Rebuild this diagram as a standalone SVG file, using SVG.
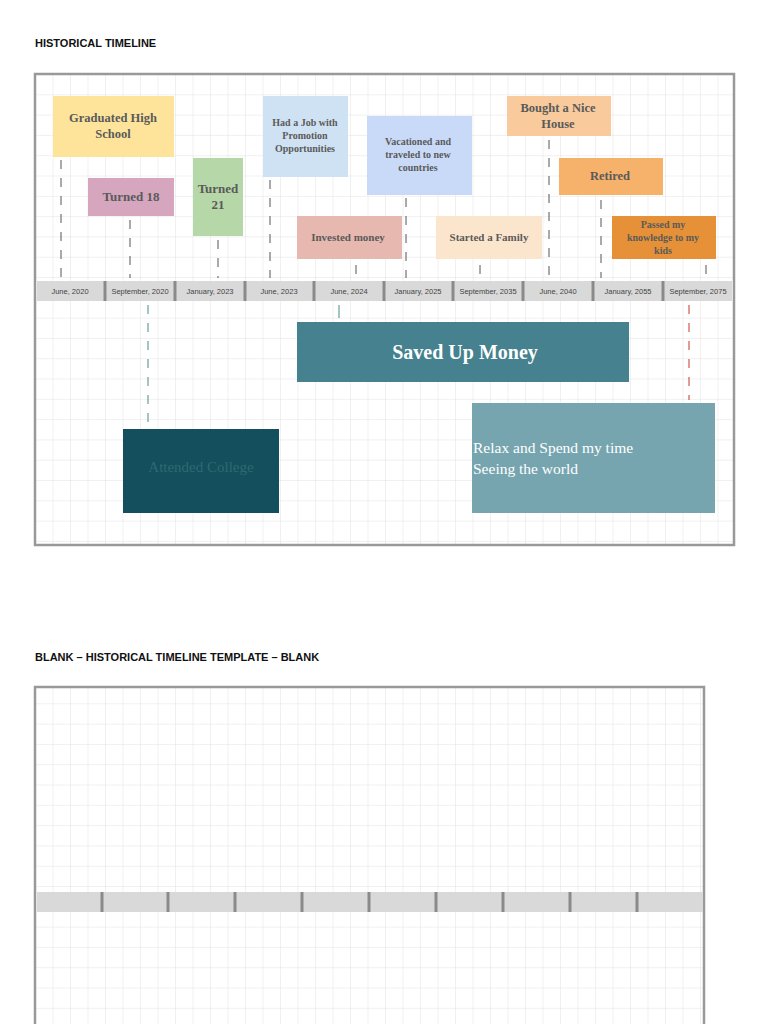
<svg xmlns="http://www.w3.org/2000/svg" width="768" height="1024" viewBox="0 0 768 1024">
<defs>
<pattern id="g" width="17.5" height="20.3" patternUnits="userSpaceOnUse" x="36" y="75">
<path d="M17.5 0V20.3M0 20.3H17.5" fill="none" stroke="#e2e2e2" stroke-width="1"/>
</pattern>
<style>
.h{font-family:"Liberation Sans",Arial,sans-serif;font-weight:bold;font-size:11px;fill:#111}
.t{font-family:"Liberation Serif","Times New Roman",serif;font-weight:bold;fill:#5a5a5a;text-anchor:middle}
.d{font-family:"Liberation Sans",Arial,sans-serif;font-size:7.5px;fill:#444;text-anchor:middle}
.tk{stroke:#555;stroke-width:1;stroke-dasharray:9,9}
.div{stroke:#8a8a8a;stroke-width:3}
.frame{fill:url(#g);stroke:#999;stroke-width:2.5}
</style>
</defs>
<rect width="768" height="1024" fill="#fff"/>
<text class="h" x="35" y="47">HISTORICAL TIMELINE</text>
<text class="h" x="35" y="661">BLANK – HISTORICAL TIMELINE TEMPLATE – BLANK</text>
<rect class="frame" x="35" y="74" width="699" height="471"/>
<rect class="frame" x="35" y="687" width="669" height="360"/>

<g id="connectors">
<line class="tk" x1="61" y1="160" x2="61" y2="278"/>
<line class="tk" x1="130" y1="220" x2="130" y2="278"/>
<line class="tk" x1="218" y1="240" x2="218" y2="278"/>
<line class="tk" x1="270" y1="180" x2="270" y2="278"/>
<line class="tk" x1="356" y1="265" x2="356" y2="278"/>
<line class="tk" x1="406" y1="198" x2="406" y2="278"/>
<line class="tk" x1="480" y1="265" x2="480" y2="278"/>
<line class="tk" x1="549" y1="140" x2="549" y2="278"/>
<line class="tk" x1="601" y1="200" x2="601" y2="278"/>
<line class="tk" x1="706" y1="265" x2="706" y2="278"/>
<line x1="148" y1="305" x2="148" y2="425" stroke="#4a8a8a" stroke-dasharray="9,9"/>
<line x1="339" y1="305" x2="339" y2="318" stroke="#4a8a8a"/>
<line x1="689" y1="305" x2="689" y2="400" stroke="#c0392b" stroke-dasharray="9,9"/>
</g>

<g id="axis">
<rect x="37" y="281" width="695" height="20" fill="#d9d9d9"/>
<g class="div"><line x1="105" y1="281" x2="105" y2="301"/><line x1="175" y1="281" x2="175" y2="301"/><line x1="245" y1="281" x2="245" y2="301"/><line x1="314" y1="281" x2="314" y2="301"/><line x1="384" y1="281" x2="384" y2="301"/><line x1="453" y1="281" x2="453" y2="301"/><line x1="523" y1="281" x2="523" y2="301"/><line x1="593" y1="281" x2="593" y2="301"/><line x1="663" y1="281" x2="663" y2="301"/></g>
<text class="d" x="70" y="294">June, 2020</text>
<text class="d" x="140" y="294">September, 2020</text>
<text class="d" x="210" y="294">January, 2023</text>
<text class="d" x="279" y="294">June, 2023</text>
<text class="d" x="349" y="294">June, 2024</text>
<text class="d" x="418" y="294">January, 2025</text>
<text class="d" x="488" y="294">September, 2035</text>
<text class="d" x="558" y="294">June, 2040</text>
<text class="d" x="628" y="294">January, 2055</text>
<text class="d" x="698" y="294">September, 2075</text>
</g>

<g id="axis2">
<rect x="37" y="892" width="666" height="20" fill="#d9d9d9"/>
<g class="div"><line x1="102" y1="892" x2="102" y2="912"/><line x1="168" y1="892" x2="168" y2="912"/><line x1="235" y1="892" x2="235" y2="912"/><line x1="302" y1="892" x2="302" y2="912"/><line x1="369" y1="892" x2="369" y2="912"/><line x1="436" y1="892" x2="436" y2="912"/><line x1="503" y1="892" x2="503" y2="912"/><line x1="570" y1="892" x2="570" y2="912"/><line x1="637" y1="892" x2="637" y2="912"/></g>
</g>

<g id="n1"><rect x="53" y="96" width="121" height="61" fill="#fee49a"/><text class="t" font-size="12.5" x="113" y="122">Graduated High</text><text class="t" font-size="12.5" x="113" y="138">School</text></g>
<g id="n2"><rect x="88" y="178" width="86" height="38" fill="#d5a6bd"/><text class="t" font-size="13" x="131" y="201">Turned 18</text></g>
<g id="n3"><rect x="193" y="158" width="50" height="78" fill="#b6d7a8"/><text class="t" font-size="13" x="218" y="193">Turned</text><text class="t" font-size="13" x="218" y="209">21</text></g>
<g id="n4"><rect x="263" y="96" width="85" height="81" fill="#cfe2f3"/><text class="t" font-size="10" x="305" y="126">Had a Job with</text><text class="t" font-size="10" x="305" y="139">Promotion</text><text class="t" font-size="10" x="305" y="152">Opportunities</text></g>
<g id="n5"><rect x="297" y="216" width="105" height="43" fill="#e6b8af"/><text class="t" font-size="11" x="348" y="241">Invested money</text></g>
<g id="n6"><rect x="367" y="116" width="105" height="79" fill="#c9daf8"/><text class="t" font-size="10" x="418" y="145">Vacationed and</text><text class="t" font-size="10" x="418" y="158">traveled to new</text><text class="t" font-size="10" x="418" y="171">countries</text></g>
<g id="n7"><rect x="436" y="216" width="106" height="43" fill="#fce5cd"/><text class="t" font-size="11" x="489" y="241">Started a Family</text></g>
<g id="n8"><rect x="507" y="96" width="104" height="40" fill="#f9cb9c"/><text class="t" font-size="12.5" x="558" y="112">Bought a Nice</text><text class="t" font-size="12.5" x="558" y="128">House</text></g>
<g id="n9"><rect x="559" y="158" width="104" height="37" fill="#f6b26b"/><text class="t" font-size="12.5" x="610" y="180">Retired</text></g>
<g id="n10"><rect x="612" y="216" width="104" height="43" fill="#e69138"/><text class="t" font-size="10" x="663" y="228">Passed my</text><text class="t" font-size="10" x="663" y="241">knowledge to my</text><text class="t" font-size="10" x="663" y="254">kids</text></g>

<g id="n11"><rect x="297" y="322" width="332" height="60" fill="#45818e"/><text font-family="Liberation Serif,serif" font-weight="bold" font-size="20" fill="#fff" text-anchor="middle" x="465" y="359">Saved Up Money</text></g>
<g id="n12"><rect x="123" y="429" width="156" height="84" fill="#134f5c"/><text font-family="Liberation Serif,serif" font-size="15" fill="#2e6a72" text-anchor="middle" x="201" y="472">Attended College</text></g>
<g id="n13"><rect x="472" y="403" width="243" height="110" fill="#76a5af"/><text font-family="Liberation Serif,serif" font-size="15.5" fill="#fff" x="473" y="453">Relax and Spend my time</text><text font-family="Liberation Serif,serif" font-size="15.5" fill="#fff" x="473" y="474">Seeing the world</text></g>
</svg>
